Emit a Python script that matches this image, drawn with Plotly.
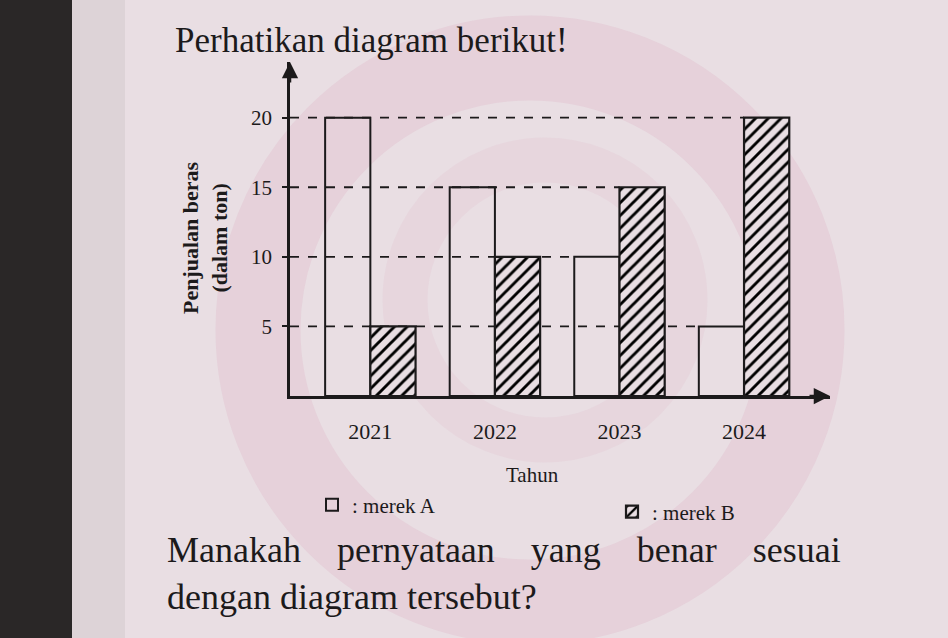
import plotly.graph_objects as go

years = ["2021", "2022", "2023", "2024"]
merek_a = [20, 15, 10, 5]
merek_b = [5, 10, 15, 20]
y_ticks = [5, 10, 15, 20]

INK = "#1c1a1b"
PAGE = "#e9dee3"
FONT = "Liberation Serif"

W, H = 948, 638
ML, MR, MT, MB = 290, 118, 62, 242
PW, PH = W - ML - MR, H - MT - MB


def px(p):
    return (p - ML) / PW


def py(p):
    return (H - MB - p) / PH


cats = list(range(len(years)))
bargap = 0.274
half = (1 - bargap) / 2
x_range = [-0.645, 3.69]

fig = go.Figure()
fig.add_trace(go.Bar(
    x=cats, y=merek_a, name=": merek A", legend="legend",
    marker=dict(color="rgba(0,0,0,0)", line=dict(color=INK, width=2)),
))
fig.add_trace(go.Bar(
    x=cats, y=merek_b, name=": merek B", legend="legend2",
    marker=dict(color=PAGE, line=dict(color=INK, width=2.2),
                pattern=dict(shape="/", fgcolor="#000000", fgopacity=1, bgcolor=PAGE,
                             size=9, solidity=0.32)),
))

shapes = []
# photo surroundings: phone bezel and faint watermark rings
shapes.append(dict(type="circle", xref="paper", yref="paper",
                   x0=px(530 - 272), x1=px(530 + 272), y0=py(330 + 272), y1=py(330 - 272),
                   line=dict(color="rgba(214,150,175,0.18)", width=85), fillcolor="rgba(0,0,0,0)",
                   layer="below"))
shapes.append(dict(type="circle", xref="paper", yref="paper",
                   x0=px(545 - 140), x1=px(545 + 140), y0=py(300 + 140), y1=py(300 - 140),
                   line=dict(color="rgba(214,150,175,0.10)", width=45), fillcolor="rgba(0,0,0,0)",
                   layer="below"))
shapes.append(dict(type="rect", xref="paper", yref="paper", x0=px(0), x1=px(72), y0=py(H), y1=py(0),
                   fillcolor="#2a2727", line=dict(width=0), layer="below"))
shapes.append(dict(type="rect", xref="paper", yref="paper", x0=px(72), x1=px(125), y0=py(H), y1=py(0),
                   fillcolor="#ddd3d7", line=dict(width=0), layer="below"))

# dashed guide lines: from the axis to the last bar that reaches each tick value
series = [merek_a, merek_b]
for v in y_ticks:
    end = None
    for i in cats:
        for j, s in enumerate(series):
            if s[i] == v:
                end = i - half + j * half
    if end is None:
        end = x_range[1]
    shapes.append(dict(type="line", xref="x", yref="y", x0=x_range[0], x1=end, y0=v, y1=v,
                       line=dict(color=INK, width=1.8, dash="dash"), layer="below"))

GAP = "&nbsp;&nbsp;&nbsp; "
annotations = [
    dict(text="Perhatikan diagram berikut!", x=px(173), y=py(40), xref="paper", yref="paper",
         xanchor="left", yanchor="middle", showarrow=False, font=dict(family=FONT, size=35, color=INK)),
    dict(text="<b>Penjualan beras</b><br><b>(dalam ton)</b>", x=px(205), y=py(238), xref="paper", yref="paper",
         xanchor="center", yanchor="middle",
         textangle=-90, showarrow=False, font=dict(family=FONT, size=22, color=INK)),
    dict(text="Tahun", x=px(532), y=py(475), xref="paper", yref="paper", xanchor="center", yanchor="middle",
         showarrow=False, font=dict(family=FONT, size=21, color=INK)),
    dict(text=GAP.join(["Manakah", "pernyataan", "yang", "benar", "sesuai"]),
         x=px(165), y=py(550), xref="paper", yref="paper", xanchor="left", yanchor="middle",
         showarrow=False, font=dict(family=FONT, size=36, color=INK)),
    dict(text="dengan diagram tersebut?", x=px(165), y=py(597), xref="paper", yref="paper",
         xanchor="left", yanchor="middle", showarrow=False, font=dict(family=FONT, size=36, color=INK)),
    # axis arrowheads
    dict(text="", x=0, y=1, xref="paper", yref="paper", ax=0, ay=22, axref="pixel", ayref="pixel",
         showarrow=True, arrowhead=2, arrowsize=1.3, arrowwidth=2.5, arrowcolor=INK),
    dict(text="", x=1, y=0, xref="paper", yref="paper", ax=-22, ay=0, axref="pixel", ayref="pixel",
         showarrow=True, arrowhead=2, arrowsize=1.3, arrowwidth=2.5, arrowcolor=INK),
]

legend_style = dict(orientation="h", xanchor="left", yanchor="middle", bgcolor="rgba(0,0,0,0)",
                    font=dict(family=FONT, size=21, color=INK))

fig.update_layout(
    width=W, height=H,
    margin=dict(l=ML, r=MR, t=MT, b=MB),
    paper_bgcolor=PAGE, plot_bgcolor="rgba(0,0,0,0)",
    barmode="group", bargap=bargap, bargroupgap=0,
    shapes=shapes, annotations=annotations,
    font=dict(family=FONT, color=INK),
    showlegend=True,
    legend=dict(x=px(312), y=py(505), **legend_style),
    legend2=dict(x=px(612), y=py(512), **legend_style),
    xaxis=dict(range=x_range, tickmode="array", tickvals=cats, ticktext=years,
               showgrid=False, zeroline=False, showline=True, linecolor=INK, linewidth=2.5,
               ticks="", ticklabelstandoff=14, tickfont=dict(family=FONT, size=22, color=INK)),
    yaxis=dict(range=[0, 24], tickmode="array", tickvals=y_ticks,
               showgrid=False, zeroline=False, showline=True, linecolor=INK, linewidth=2.5,
               ticks="outside", ticklen=5, tickwidth=1.5, tickcolor=INK, ticklabelstandoff=6,
               tickfont=dict(family=FONT, size=21, color=INK)),
)

fig.write_html(
    "out.html",
    config={"displayModeBar": False},
    post_script="document.body.style.margin='0';document.body.style.background='%s';" % PAGE,
)
